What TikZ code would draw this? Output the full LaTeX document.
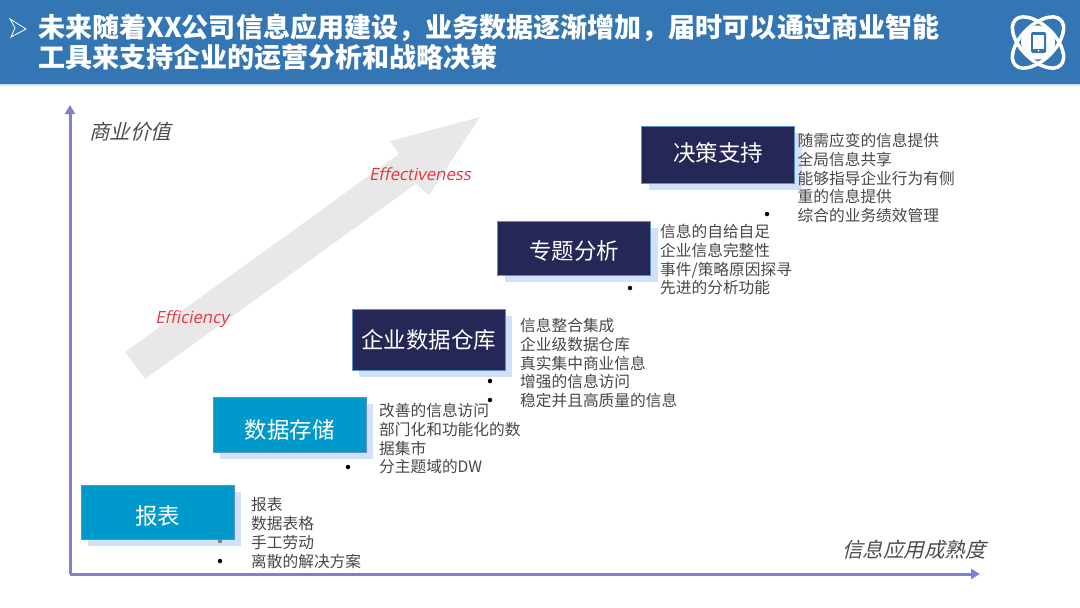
\documentclass[tikz,border=0pt]{standalone}
\usepackage{fontspec}
\setmainfont{Noto Sans CJK SC}
\newfontfamily\latinfont[FakeSlant=0.2]{Open Sans}
\newfontfamily\axisfont[FakeSlant=0.25]{Noto Sans CJK SC}
\usetikzlibrary{positioning,arrows.meta,shadows}
\definecolor{bandblue}{HTML}{3476B3}
\definecolor{axispurple}{HTML}{8080D0}
\definecolor{shadowblue}{HTML}{D2E1FA}
\definecolor{lvlteal}{HTML}{0099CC}
\definecolor{lvlnavy}{HTML}{252756}
\definecolor{effred}{HTML}{E8343C}
\begin{document}
\begin{tikzpicture}[x=1pt,y=-1pt]
	\tikzstyle{lvl}=[rectangle,draw=bandblue!80,line width=0.7pt,outer sep=0pt,inner sep=0pt,minimum width=153pt,text=white,font=\fontsize{22.5}{22.5}\selectfont,general shadow={fill=shadowblue,shadow xshift=7pt,shadow yshift=-7pt}]
	\tikzstyle{info}=[align=left,inner sep=0pt,text=black!72,font=\fontsize{15.7}{18.8}\selectfont]
	\tikzstyle{dot}=[circle,fill=black,inner sep=0pt,minimum size=4.5pt]
	\tikzstyle{axisname}=[text=black!70,font=\axisfont\fontsize{20.5}{20.5}\selectfont]
	\tikzstyle{eff}=[text=effred,font=\latinfont\fontsize{16.8}{16.8}\selectfont]
	\tikzstyle{axisline}=[axispurple,line width=3pt,-{Triangle[length=9pt,width=10pt]}]
	\useasboundingbox (0,0) rectangle (1080,608);
	% band
	\fill[bandblue] (0,0) rectangle (1080,84);
	\fill[shadowblue] (0,84) rectangle (1080,85.5);
	\draw[white,line width=0.8pt,line join=miter] (10,19) -- (26,29) -- (11,37) -- (15,28) -- cycle;
	\node[anchor=north west,align=left,inner sep=0pt,text=white,font=\fontsize{27.05}{29.5}\selectfont\bfseries] (title) at (38,14) {未来随着XX公司信息应用建设，业务数据逐渐增加，届时可以通过商业智能\\工具来支持企业的运营分析和战略决策};
	% icon
	\draw[white,line width=3.5pt,rotate around={45:(1038,42.5)}] (1038,42.5) ellipse (32 and 17);
	\draw[white,line width=3.5pt,rotate around={-45:(1038,42.5)}] (1038,42.5) ellipse (32 and 17);
	\fill[white] (1038,42.5) circle (17);
	\fill[bandblue,rounded corners=1.5pt] (1031,32) rectangle (1046,53);
	\fill[white] (1033,35) rectangle (1044,48.5);
	\fill[white] (1038.5,50.7) circle (1);
	% arrow
	\fill[black!9] (125,352) -- (399,154) -- (390,141) -- (480,117) -- (429,195) -- (416,184) -- (145,379) -- cycle;
	\node[eff] (efn) at (420,174) {Effectiveness};
	\node[eff] (efc) at (192,319) {Efficiency};
	% axes
	\coordinate (origin) at (70,574);
	\coordinate (ytop) at (70,105);
	\coordinate (xend) at (980,574);
	\draw[axisline] (origin) -- (ytop);
	\draw[axisline] (origin) -- (xend);
	\node[axisname] (yname) at (130,132) {商业价值};
	\node[axisname] (xname) at (914,550) {信息应用成熟度};
	% levels
	\node[lvl,fill=lvlteal,minimum height=54pt,text height=27pt,text depth=3pt] (l1) at (157.5,512) {报表};
	\node[lvl,fill=lvlteal,minimum height=55pt,text height=30pt,text depth=3pt] (l2) [above right=33pt and -21pt of l1] {数据存储};
	\node[lvl,fill=lvlnavy,minimum height=61pt] (l3) [above right=27pt and -14pt of l2] {企业数据仓库};
	\node[lvl,fill=lvlnavy,minimum height=54pt,text height=26pt,text depth=3pt] (l4) [above right=34pt and -7.5pt of l3] {专题分析};
	\node[lvl,fill=lvlnavy,minimum height=57pt,text height=16pt,text depth=3pt] (l5) [above right=38pt and -9pt of l4] {决策支持};
	% lists
	\node[info] (t1) [below right=12.5pt and 17pt of l1.north east] {报表\\数据表格\\手工劳动\\离散的解决方案};
	\node[info] (t2) [below right=6pt and 13pt of l2.north east] {改善的信息访问\\部门化和功能化的数\\据集市\\分主题域的DW};
	\node[info] (t3) [below right=9pt and 15pt of l3.north east] {信息整合集成\\企业级数据仓库\\真实集中商业信息\\增强的信息访问\\稳定并且高质量的信息};
	\node[info] (t4) [below right=3pt and 9.5pt of l4.north east] {信息的自给自足\\企业信息完整性\\事件/策略原因探寻\\先进的分析功能};
	\node[info] (t5) [below right=7pt and 3pt of l5.north east] {随需应变的信息提供\\全局信息共享\\能够指导企业行为有侧\\重的信息提供\\综合的业务绩效管理};
	% bullets
	\node[dot,fill=black!50] (b1) at (220,541) {};
	\foreach \px/\py [count=\i from 2] in {220/561,348/467,490/381,490/400,630/288,767/214}
		\node[dot] (b\i) at (\px,\py) {};
\end{tikzpicture}
\end{document}
